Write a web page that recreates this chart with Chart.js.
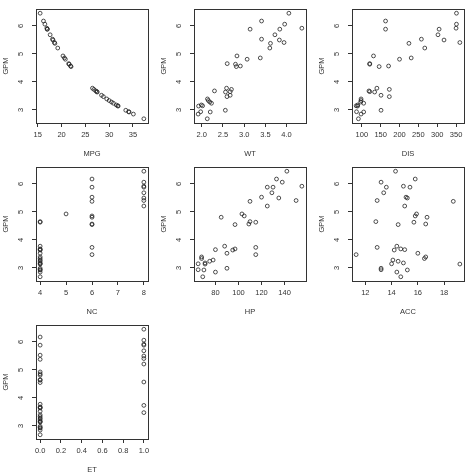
<!DOCTYPE html>
<html>
<head>
<meta charset="utf-8">
<title>GPM scatter panels</title>
<script src="https://cdn.jsdelivr.net/npm/chart.js@4.4.1/dist/chart.umd.min.js"></script>
<style>
  body { margin: 0; background: #fff; }
  #grid { position: relative; width: 474px; height: 474px; }
  .cell { position: absolute; width: 158px; height: 158px; }
</style>
</head>
<body>
<div id="grid"></div>
<script>
// 38 cars, one value per car in each list (same order)
var cars = ['Buick Estate Wagon', 'Ford Country Squire Wagon', 'Chevy Malibu Wagon', 'Chrysler LeBaron Wagon',
  'Chevette', 'Toyota Corona', 'Datsun 510', 'Dodge Omni', 'Audi 5000', 'Volvo 240 GL', 'Saab 99 GLE',
  'Peugeot 694 SL', 'Buick Century Special', 'Mercury Zephyr', 'Dodge Aspen', 'AMC Concord D/L',
  'Chevy Caprice Classic', 'Ford LTD', 'Mercury Grand Marquis', 'Dodge St Regis', 'Ford Mustang 4',
  'Ford Mustang Ghia', 'Mazda GLC', 'Dodge Colt', 'AMC Spirit', 'VW Scirocco', 'Honda Accord LX',
  'Buick Skylark', 'Chevy Citation', 'Olds Omega', 'Pontiac Phoenix', 'Plymouth Horizon', 'Datsun 210',
  'Fiat Strada', 'VW Dasher', 'Datsun 810', 'BMW 320i', 'VW Rabbit'];

var mpg = [16.9, 15.5, 19.2, 18.5, 30.0, 27.5, 27.2, 30.9, 20.3, 17.0, 21.6, 16.2, 20.6, 20.8, 18.6, 18.1,
  17.0, 17.6, 16.5, 18.2, 26.5, 21.9, 34.1, 35.1, 27.4, 31.5, 29.5, 28.4, 28.8, 26.8, 33.5, 34.2, 31.8,
  37.3, 30.5, 22.0, 21.5, 31.9];
var gpm = [5.917, 6.452, 5.208, 5.405, 3.333, 3.636, 3.676, 3.236, 4.926, 5.882, 4.630, 6.173, 4.854, 4.808,
  5.376, 5.525, 5.882, 5.682, 6.061, 5.495, 3.774, 4.566, 2.933, 2.849, 3.650, 3.175, 3.390, 3.521, 3.472,
  3.731, 2.985, 2.924, 3.145, 2.681, 3.279, 4.545, 4.651, 3.135];
var wt = [4.360, 4.054, 3.605, 3.940, 2.155, 2.560, 2.300, 2.230, 2.830, 3.140, 2.795, 3.410, 3.380, 3.070,
  3.620, 3.410, 3.840, 3.725, 3.955, 3.830, 2.585, 2.910, 1.975, 1.915, 2.670, 1.990, 2.135, 2.670, 2.595,
  2.700, 2.556, 2.200, 2.020, 2.130, 2.190, 2.815, 2.600, 1.925];
var dis = [350, 351, 267, 360, 98, 134, 119, 105, 131, 163, 121, 163, 231, 200, 225, 258, 305, 302, 351, 318,
  140, 171, 86, 98, 121, 89, 98, 151, 173, 173, 151, 105, 85, 91, 97, 146, 121, 89];
var nc = [8, 8, 8, 8, 4, 4, 4, 4, 5, 6, 4, 6, 6, 6, 6, 6, 8, 8, 8, 8, 4, 6, 4, 4, 4, 4, 4, 4, 6, 6, 4, 4, 4,
  4, 4, 6, 4, 4];
var hp = [155, 142, 125, 150, 68, 95, 97, 75, 103, 125, 115, 133, 105, 85, 110, 120, 130, 129, 138, 135, 88,
  109, 65, 80, 80, 71, 68, 90, 115, 115, 90, 70, 65, 69, 78, 97, 110, 71];
var acc = [14.9, 14.3, 15.0, 12.9, 16.5, 14.2, 14.7, 14.5, 15.9, 15.4, 15.7, 15.8, 15.8, 16.7, 18.7, 15.1,
  13.6, 13.4, 13.2, 15.2, 14.4, 16.6, 13.2, 14.4, 15.0, 14.9, 16.6, 16.0, 11.3, 12.9, 13.2, 15.2, 14.0,
  14.7, 14.1, 14.5, 12.8, 19.2];
var et = [1, 1, 1, 1, 0, 0, 0, 0, 0, 0, 0, 0, 0, 0, 0, 0, 1, 1, 1, 1, 0, 1, 0, 0, 0, 0, 0, 0, 1, 1, 0, 0, 0,
  0, 0, 0, 0, 0];

// tick values and their labels
var gpmTicks = [3, 4, 5, 6];
var mpgTicks = [15, 20, 25, 30, 35];
var mpgTickLabels = ['15', '20', '25', '30', '35'];
var wtTicks = [2, 2.5, 3, 3.5, 4];
var wtTickLabels = ['2.0', '2.5', '3.0', '3.5', '4.0'];
var disTicks = [100, 150, 200, 250, 300, 350];
var disTickLabels = ['100', '150', '200', '250', '300', '350'];
var ncTicks = [4, 5, 6, 7, 8];
var ncTickLabels = ['4', '5', '6', '7', '8'];
var hpTicks = [80, 100, 120, 140];
var hpTickLabels = ['80', '100', '120', '140'];
var accTicks = [12, 14, 16, 18];
var accTickLabels = ['12', '14', '16', '18'];
var etTicks = [0, 0.2, 0.4, 0.6, 0.8, 1];
var etTickLabels = ['0.0', '0.2', '0.4', '0.6', '0.8', '1.0'];

var panels = [
  { name: 'MPG', x: mpg, ticks: mpgTicks, labels: mpgTickLabels },
  { name: 'WT', x: wt, ticks: wtTicks, labels: wtTickLabels },
  { name: 'DIS', x: dis, ticks: disTicks, labels: disTickLabels },
  { name: 'NC', x: nc, ticks: ncTicks, labels: ncTickLabels },
  { name: 'HP', x: hp, ticks: hpTicks, labels: hpTickLabels },
  { name: 'ACC', x: acc, ticks: accTicks, labels: accTickLabels },
  { name: 'ET', x: et, ticks: etTicks, labels: etTickLabels }
];

var ink = '#333';
var fontSize = 7.5;
Chart.defaults.font.family = '"Liberation Sans", Arial, sans-serif';
Chart.defaults.font.size = fontSize;
Chart.defaults.color = ink;

// R pads each axis by 4% of the data range
function paddedRange(values) {
  var lo = Math.min.apply(null, values);
  var hi = Math.max.apply(null, values);
  var pad = (hi - lo) * 0.04;
  return [lo - pad, hi + pad];
}

// box round the plot region and y tick labels turned like R draws them
var rBox = {
  id: 'rBox',
  afterDraw: function (chart) {
    var ctx = chart.ctx;
    var a = chart.chartArea;
    var ys = chart.scales.y;
    ctx.save();
    ctx.strokeStyle = ink;
    ctx.lineWidth = 1;
    ctx.strokeRect(Math.round(a.left) + 0.5, Math.round(a.top) + 0.5,
      Math.round(a.right - a.left), Math.round(a.bottom - a.top));
    ctx.fillStyle = ink;
    ctx.font = fontSize + 'px "Liberation Sans", Arial, sans-serif';
    ctx.textAlign = 'center';
    ctx.textBaseline = 'middle';
    ys.ticks.forEach(function (t) {
      var py = ys.getPixelForValue(t.value);
      ctx.save();
      ctx.translate(21, py);
      ctx.rotate(-Math.PI / 2);
      ctx.fillText(String(t.value), 0, 0);
      ctx.restore();
    });
    ctx.restore();
  }
};

var grid = document.getElementById('grid');
var yRange = paddedRange(gpm);

panels.forEach(function (p, i) {
  var cell = document.createElement('div');
  cell.className = 'cell';
  cell.style.left = (i % 3) * 158 + 'px';
  cell.style.top = Math.floor(i / 3) * 158 + 'px';
  var canvas = document.createElement('canvas');
  canvas.width = 158;
  canvas.height = 158;
  cell.appendChild(canvas);
  grid.appendChild(cell);

  var xRange = paddedRange(p.x);
  var points = p.x.map(function (v, k) { return { x: v, y: gpm[k] }; });

  new Chart(canvas.getContext('2d'), {
    type: 'scatter',
    data: {
      datasets: [{
        label: p.name,
        data: points,
        pointStyle: 'circle',
        pointRadius: 1.9,
        pointBorderWidth: 0.8,
        borderColor: '#222',
        backgroundColor: 'rgba(0,0,0,0)'
      }]
    },
    options: {
      responsive: false,
      animation: false,
      events: [],
      layout: { padding: { top: 9, right: 10, left: 0, bottom: 0 } },
      plugins: { legend: { display: false }, tooltip: { enabled: false } },
      scales: {
        x: {
          type: 'linear',
          min: xRange[0],
          max: xRange[1],
          afterBuildTicks: function (axis) {
            axis.ticks = p.ticks.map(function (v) { return { value: v }; });
          },
          afterFit: function (axis) { axis.height = 35; },
          ticks: {
            autoSkip: false,
            maxRotation: 0,
            padding: 3,
            color: ink,
            callback: function (v, idx) { return p.labels[idx]; }
          },
          grid: { display: true, drawOnChartArea: false, drawTicks: true, tickLength: 4, color: ink, lineWidth: 1 },
          border: { display: false },
          title: { display: true, text: p.name, color: ink, padding: { top: 0, bottom: 0 } }
        },
        y: {
          type: 'linear',
          min: yRange[0],
          max: yRange[1],
          afterBuildTicks: function (axis) {
            axis.ticks = gpmTicks.map(function (v) { return { value: v }; });
          },
          afterFit: function (axis) { axis.width = 36; },
          ticks: { callback: function () { return ''; } },
          grid: { display: true, drawOnChartArea: false, drawTicks: true, tickLength: 4, color: ink, lineWidth: 1 },
          border: { display: false },
          title: { display: true, text: 'GPM', color: ink, padding: { top: 1, bottom: 0 } }
        }
      }
    },
    plugins: [rBox]
  });
});
</script>
</body>
</html>
